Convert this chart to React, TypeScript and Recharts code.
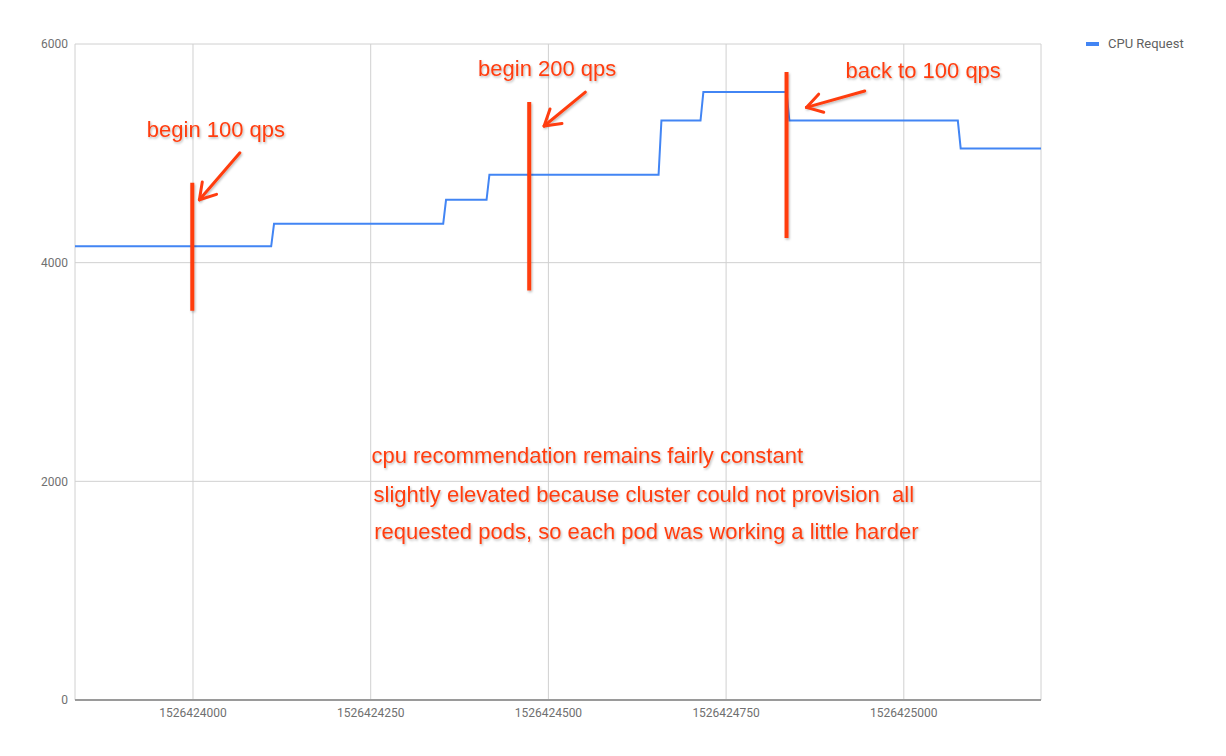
import {
  CartesianGrid,
  Line,
  LineChart,
  ReferenceDot,
  ReferenceLine,
  XAxis,
  YAxis,
} from "recharts";

// timestamps (seconds) and the recommended cpu request at each one
const times = [
  1526423834, 1526424110, 1526424114, 1526424352, 1526424356, 1526424413,
  1526424417, 1526424655, 1526424659, 1526424714, 1526424718, 1526424835,
  1526424839, 1526425076, 1526425080, 1526425193,
];
const cpuRequest = [
  4150, 4150, 4355, 4355, 4575, 4575, 4805, 4805, 5300, 5300, 5560, 5560,
  5300, 5300, 5045, 5045,
];

const xTicks = [1526424000, 1526424250, 1526424500, 1526424750, 1526425000];
const yTicks = [0, 2000, 4000, 6000];
const xDomain = [1526423834, 1526425193];

// red marker lines drawn on top of the chart: [x, yFrom, yTo]
const markers = [
  [1526423999, 4730, 3560],
  [1526424473, 5470, 3745],
  [1526424835, 5745, 4225],
];
// arrows: [tailX, tailY, tipX, tipY]
const arrows = [
  [1526424066, 5005, 1526424009, 4575],
  [1526424552, 5560, 1526424494, 5250],
  [1526424945, 5570, 1526424863, 5420],
];
const notes = [
  { x: 1526423935, y: 5152, text: "begin 100 qps" },
  { x: 1526424401, y: 5710, text: "begin 200 qps" },
  { x: 1526424918, y: 5690, text: "back to 100 qps" },
  { x: 1526424251, y: 2165, text: "cpu recommendation remains fairly constant" },
  { x: 1526424254, y: 1810, text: "slightly elevated because cluster could not provision  all" },
  { x: 1526424255, y: 1475, text: "requested pods, so each pod was working a little harder" },
];

const data = times.map((t, i) => ({ t, cpu: cpuRequest[i] }));

const RED = "#ff3d10";
const xScale = (xDomain[1] - xDomain[0]) / 966;
const yScale = 6000 / 656;

function arrowHead(a: number[]) {
  const [tx, ty, hx, hy] = a;
  const dx = (tx - hx) / xScale;
  const dy = (ty - hy) / yScale;
  const len = Math.sqrt(dx * dx + dy * dy);
  const ux = dx / len;
  const uy = dy / len;
  const wing = 18;
  const ang = 0.55;
  return [ang, -ang].map((s) => {
    const rx = ux * Math.cos(s) - uy * Math.sin(s);
    const ry = ux * Math.sin(s) + uy * Math.cos(s);
    return { x: hx + rx * wing * xScale, y: hy + ry * wing * yScale };
  });
}

export default function App() {
  return (
    <div style={{ position: "absolute", left: 0, top: 0, width: 1226, height: 756, background: "#fff" }}>
      <svg width={0} height={0} style={{ position: "absolute" }}>
        <defs>
          <filter id="soft" filterUnits="userSpaceOnUse" x="0" y="0" width="1226" height="756">
            <feDropShadow dx="1" dy="1.5" stdDeviation="1.2" floodColor="#000" floodOpacity="0.28" />
          </filter>
        </defs>
      </svg>
      <LineChart
        width={1226}
        height={756}
        data={data}
        margin={{ top: 44, right: 185, bottom: 26, left: 15 }}
        style={{ fontFamily: "Roboto, sans-serif" }}
      >
        <CartesianGrid stroke="#d0d0d0" strokeWidth={1} />
        <XAxis
          dataKey="t"
          type="number"
          domain={xDomain}
          ticks={xTicks}
          allowDataOverflow
          height={30}
          tickSize={0}
          tickMargin={8}
          axisLine={{ stroke: "#9a9a9a", strokeWidth: 2 }}
          tick={{ fill: "#707070", fontSize: 12 }}
        />
        <YAxis
          type="number"
          domain={[0, 6000]}
          ticks={yTicks}
          width={60}
          tickSize={0}
          tickMargin={7}
          axisLine={false}
          tick={{ fill: "#707070", fontSize: 12 }}
        />
        <Line
          type="linear"
          dataKey="cpu"
          name="CPU Request"
          stroke="#4285f4"
          strokeWidth={2}
          dot={false}
          isAnimationActive={false}
        />
        {markers.map(([x, y1, y2], i) => (
          <ReferenceLine
            key={"m" + i}
            segment={[{ x, y: y1 }, { x, y: y2 }]}
            stroke={RED}
            strokeWidth={4}
            style={{ filter: "url(#soft)" }}
          />
        ))}
        {arrows.map((a, i) => {
          const [w1, w2] = arrowHead(a);
          return [
            <ReferenceLine
              key={"a" + i}
              segment={[{ x: a[0], y: a[1] }, { x: a[2], y: a[3] }]}
              stroke={RED}
              strokeWidth={3}
              strokeLinecap="round"
              style={{ filter: "url(#soft)" }}
            />,
            <ReferenceLine
              key={"w1" + i}
              segment={[{ x: a[2], y: a[3] }, w1]}
              stroke={RED}
              strokeWidth={3}
              strokeLinecap="round"
            />,
            <ReferenceLine
              key={"w2" + i}
              segment={[{ x: a[2], y: a[3] }, w2]}
              stroke={RED}
              strokeWidth={3}
              strokeLinecap="round"
            />,
          ];
        })}
        {notes.map((n, i) => (
          <ReferenceDot
            key={"n" + i}
            x={n.x}
            y={n.y}
            r={1}
            shape={(p: any) => (
              <text
                x={p.cx}
                y={p.cy}
                fill={RED}
                fontSize={22}
                fontFamily="'Liberation Sans', Arial, sans-serif"
                style={{ filter: "url(#soft)", whiteSpace: "pre" }}
              >
                {n.text}
              </text>
            )}
          />
        ))}
      </LineChart>
      <div
        style={{
          position: "absolute",
          left: 1086,
          top: 36,
          display: "flex",
          alignItems: "center",
          fontFamily: "Roboto, sans-serif",
          fontSize: 13,
          color: "#5f5f5f",
        }}
      >
        <span style={{ display: "inline-block", width: 13, height: 4, background: "#4285f4", marginRight: 9 }} />
        CPU Request
      </div>
    </div>
  );
}
